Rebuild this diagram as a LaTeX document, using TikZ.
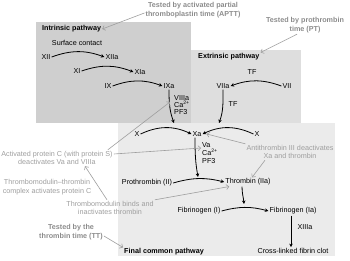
\documentclass[tikz,border=0pt]{standalone}
\usepackage{fontspec}
\setmainfont{Liberation Sans}
\usetikzlibrary{arrows.meta}
\definecolor{intrfill}{gray}{0.81}
\definecolor{extrfill}{gray}{0.87}
\definecolor{finalfill}{gray}{0.92}
\definecolor{notegray}{gray}{0.62}
\definecolor{testgray}{gray}{0.55}

\begin{document}
\begin{tikzpicture}[x=1pt,y=1pt,
  every node/.style={font=\fontsize{7.2}{8}\selectfont,inner sep=1pt},
  pathtitle/.style={font=\fontsize{7.2}{8}\selectfont\bfseries,anchor=west},
  note/.style={text=notegray,align=center,font=\fontsize{7.2}{8.7}\selectfont},
  testnote/.style={text=testgray,align=center,font=\fontsize{7.2}{9.3}\selectfont\bfseries},
  cofac/.style={align=left,anchor=north west},
  react/.style={-{Stealth[length=3.5pt,width=3.5pt,inset=1pt]},line width=0.8pt},
  inhib/.style={-{Straight Barb[length=2.5pt,width=5pt]},draw=notegray,line width=0.6pt}]
  \useasboundingbox (0,0) rectangle (350,260);
  \fill[intrfill] (36,137) rectangle (191,238);
  \fill[extrfill] (191,137) rectangle (301,210);
  \fill[finalfill] (118,4) rectangle (335,137);

  % intrinsic
  \node[pathtitle] (intrtitle) at (41,231) {Intrinsic pathway};
  \node (surf) at (77,217) {Surface contact};
  \node (xii) at (46,203) {XII};
  \node (xiia) at (112,203) {XIIa};
  \node (xi) at (77,189) {XI};
  \node (xia) at (140,188) {XIa};
  \node (ix) at (108,174) {IX};
  \node (ixa) at (169,174) {IXa};
  \node[cofac,font=\fontsize{7.2}{7.2}\selectfont] (cof8) at (173,166) {VIIIa\\Ca\textsuperscript{2+}\\PF3};

  % extrinsic
  \node[pathtitle] (extrtitle) at (197,203) {Extrinsic pathway};
  \node (tfa) at (252,188) {TF};
  \node (vii) at (287,174) {VII};
  \node (viia) at (223,174) {VIIa};
  \node (tfb) at (233,156) {TF};

  % final common
  \node[pathtitle] (fctitle) at (123,8) {Final common pathway};
  \node (xl) at (137,126) {X};
  \node (xa) at (197,126) {Xa};
  \node (xr) at (257,126) {X};
  \node[cofac,font=\fontsize{7.2}{8.4}\selectfont] (cof5) at (201,119) {Va\\Ca\textsuperscript{2+}\\PF3};
  \node (proth) at (147,77) {Prothrombin (II)};
  \node (thr) at (248,78) {Thrombin (IIa)};
  \node (fib) at (199,49) {Fibrinogen (I)};
  \node (fiba) at (293,49) {Fibrinogen (Ia)};
  \node (xiiia) at (305,33) {XIIIa};
  \node (clot) at (293,9) {Cross-linked fibrin clot};

  % notes
  \node[testnote] (aptt) at (193,250) {Tested by activated partial\\thromboplastin time (APTT)};
  \node[testnote] (pt) at (305,235) {Tested by prothrombin\\time (PT)};
  \node[testnote] (tt) at (71,28) {Tested by the\\thrombin time (TT)};
  \node[note] (apc) at (57,102) {Activated protein C (with protein S)\\deactivates Va and VIIIa};
  \node[note] (tmt) at (47,73) {Thrombomodulin--thrombin\\complex activates protein C};
  \node[note] (tmbind) at (110,52) {Thrombomodulin binds and\\inactivates thrombin};
  \node[note] (at3) at (290,108) {Antithrombin III deactivates\\Xa and thrombin};

  \coordinate (mgl) at (174,137);
  \coordinate (mgr) at (219,137);
  \coordinate (mgp) at (198,83);
  \coordinate (mgf) at (244,56);

  % cascade
  \draw[react] (xii.east) to[bend left=20] (xiia.west);
  \draw[react] (xi.east) to[bend left=20] (xia.west);
  \draw[react] (ix.east) to[bend left=20] (ixa.west);
  \draw[react] (vii.west) to[bend right=20] (viia.east);
  \draw[react] (ixa.south) to[out=-90,in=110] (mgl);
  \draw[react] (viia.south) to[out=-90,in=70] (mgr);
  \draw[react] (xl.east) to[bend left=25] (xa.west);
  \draw[react] (xr.west) to[bend right=25] (xa.east);
  \draw[react] ([xshift=-2pt]xa.south) to[out=-90,in=100] (mgp);
  \draw[react] (proth.east) to[bend left=15] (thr.west);
  \draw[react] ([xshift=-6pt]thr.south) to[out=-90,in=95] (mgf);
  \draw[react] (fib.east) to[bend left=15] (fiba.west);
  \draw[react] ([xshift=-2pt]fiba.south) -- ([xshift=-2pt]clot.north);

  % tests and inhibitors
  \draw[inhib] ([yshift=-3pt]aptt.west) -- (intrtitle.east);
  \draw[inhib] ([xshift=-8pt]pt.south) -- (extrtitle.north east);
  \draw[inhib] ([yshift=-4pt]tt.east) -- (fctitle.north west);
  \draw[inhib] ([yshift=4pt]apc.east) -- ([yshift=-7pt]cof5.north west);
  \draw[inhib] ([xshift=-6pt]apc.north east) -- ([xshift=-3pt,yshift=-8pt]cof8.north west);
  \draw[inhib] ([xshift=-3pt]tmbind.north) -- ([xshift=28pt]apc.south);
  \draw[inhib] (tmbind.north east) -- ([xshift=5pt]thr.south west);
  \draw[inhib] (at3.north west) -- ([xshift=4pt]xa.east);
  \draw[inhib] ([xshift=-25pt]at3.south) -- ([xshift=4pt]thr.north);
\end{tikzpicture}
\end{document}
